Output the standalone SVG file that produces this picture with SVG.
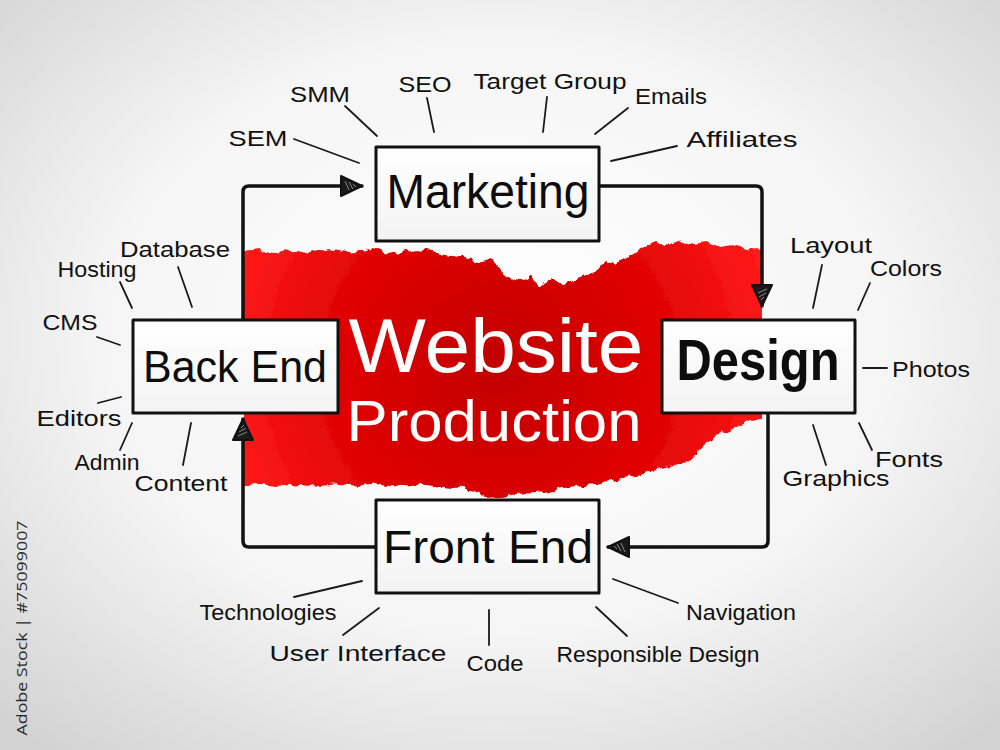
<svg xmlns="http://www.w3.org/2000/svg" width="1000" height="750" viewBox="0 0 1000 750">
<defs>
<radialGradient id="bg" cx="50%" cy="45%" r="72%">
<stop offset="0" stop-color="#ffffff"/>
<stop offset="0.55" stop-color="#f5f5f5"/>
<stop offset="1" stop-color="#d2d2d2"/>
</radialGradient>
<radialGradient id="red" cx="500" cy="370" r="280" gradientUnits="userSpaceOnUse">
<stop offset="0" stop-color="#c20000"/>
<stop offset="0.6" stop-color="#e00404"/>
<stop offset="1" stop-color="#ff1a1a"/>
</radialGradient>
<linearGradient id="boxfill" x1="0" y1="0" x2="0" y2="1">
<stop offset="0" stop-color="#ffffff"/>
<stop offset="1" stop-color="#f3f3f3"/>
</linearGradient>
<clipPath id="redclip">
<rect x="244" y="200" width="518" height="320"/>
</clipPath>
<filter id="rough" x="-5%" y="-10%" width="110%" height="120%">
<feTurbulence type="fractalNoise" baseFrequency="0.09" numOctaves="3" seed="4"/>
<feDisplacementMap in="SourceGraphic" scale="9" xChannelSelector="R" yChannelSelector="G"/>
</filter>
<marker id="arr" markerUnits="userSpaceOnUse" viewBox="0 0 24 22" refX="22" refY="11" markerWidth="24" markerHeight="22" orient="auto">
<path d="M1,1 L22,11 L1,21 Z" fill="#1a1a1a" stroke="#111" stroke-width="2" stroke-linejoin="round"/>
<path d="M5,6 L9,15 M9,7 L13,14 M13,9 L16,12" stroke="#888" stroke-width="1"/>
</marker>
<style>
.lbl{font-family:"Liberation Sans",Arial,sans-serif;font-size:22px;fill:#111;text-anchor:middle}
.box{fill:url(#boxfill);stroke:#111;stroke-width:3;stroke-linejoin:round}
.bt{font-family:"Liberation Sans",Arial,sans-serif;fill:#0d0d0d;text-anchor:middle}
.spoke{stroke:#1a1a1a;stroke-width:1.8;stroke-linecap:round;fill:none}
.cyc{stroke:#111;stroke-width:3.5;fill:none;stroke-linejoin:round;stroke-linecap:round}
.title{font-family:"Liberation Sans",Arial,sans-serif;fill:#ffffff;text-anchor:middle}
</style>
</defs>
<rect x="0" y="0" width="1000" height="750" fill="url(#bg)"/>

<g id="red-brush" clip-path="url(#redclip)">
<path filter="url(#rough)" fill="url(#red)" d="M230,486 L230,253 L260,250 L275,254 L290,249 L310,252 L330,248 L350,253 L370,249 L395,254 L420,250 L445,255 L465,258 L480,262 L492,258 L500,270 L510,278 L520,282 L530,276 L540,285 L550,280 L565,283 L580,278 L595,272 L605,262 L615,266 L625,258 L635,252 L645,246 L655,242 L665,246 L678,240 L690,245 L705,242 L720,248 L735,246 L750,250 L775,252 L775,418 L750,420 L735,428 L722,432 L712,440 L703,447 L695,455 L688,462 L670,466 L650,470 L635,476 L615,479 L597,484 L575,486 L555,490 L535,493 L515,494 L500,497 L485,498 L475,492 L463,488 L440,487 L420,484 L400,486 L380,484 L360,486 L340,484 L320,486 L300,484 L280,486 L260,484 Z"/>
</g>

<g id="connectors">
<path class="cyc" d="M243,319 L243,192 Q243,186 249,186 L362,186" marker-end="url(#arr)"/>
<path class="cyc" d="M600,186 L756,186 Q762,186 762,192 L762,306" marker-end="url(#arr)"/>
<path class="cyc" d="M768,413 L768,541 Q768,547 762,547 L608,547" marker-end="url(#arr)"/>
<path class="cyc" d="M376,547 L249,547 Q243,547 243,541 L243,419" marker-end="url(#arr)"/>
</g>

<g id="title">
<text class="title" x="496" y="372" font-size="76" textLength="295" lengthAdjust="spacingAndGlyphs">Website</text>
<text class="title" x="494" y="441" font-size="58" textLength="295" lengthAdjust="spacingAndGlyphs">Production</text>
</g>

<g id="marketing">
<rect class="box" x="376" y="147" width="223" height="94"/>
<text class="bt" x="488" y="208" font-size="48" textLength="203" lengthAdjust="spacingAndGlyphs">Marketing</text>
<g class="spokes">
<line class="spoke" x1="294" y1="139" x2="359" y2="163"/>
<line class="spoke" x1="345" y1="106" x2="377" y2="136"/>
<line class="spoke" x1="427" y1="98" x2="434" y2="132"/>
<line class="spoke" x1="547" y1="97" x2="543" y2="132"/>
<line class="spoke" x1="628" y1="108" x2="595" y2="134"/>
<line class="spoke" x1="677" y1="146" x2="611" y2="161"/>
</g>
<text class="lbl" x="258" y="146" textLength="59" lengthAdjust="spacingAndGlyphs">SEM</text>
<text class="lbl" x="320" y="102" textLength="60" lengthAdjust="spacingAndGlyphs">SMM</text>
<text class="lbl" x="425" y="92" textLength="53" lengthAdjust="spacingAndGlyphs">SEO</text>
<text class="lbl" x="550" y="89" textLength="153" lengthAdjust="spacingAndGlyphs">Target Group</text>
<text class="lbl" x="671" y="104" textLength="72" lengthAdjust="spacingAndGlyphs">Emails</text>
<text class="lbl" x="742" y="147" textLength="111" lengthAdjust="spacingAndGlyphs">Affiliates</text>
</g>

<g id="design">
<rect class="box" x="662" y="320" width="193" height="93"/>
<text class="bt" x="758" y="380" font-size="58" font-weight="bold" textLength="163" lengthAdjust="spacingAndGlyphs">Design</text>
<g class="spokes">
<line class="spoke" x1="822" y1="265" x2="813" y2="308"/>
<line class="spoke" x1="870" y1="283" x2="858" y2="310"/>
<line class="spoke" x1="863" y1="368" x2="887" y2="368"/>
<line class="spoke" x1="813" y1="425" x2="826" y2="465"/>
<line class="spoke" x1="859" y1="423" x2="872" y2="450"/>
</g>
<text class="lbl" x="831" y="253" textLength="82" lengthAdjust="spacingAndGlyphs">Layout</text>
<text class="lbl" x="906" y="276" textLength="72" lengthAdjust="spacingAndGlyphs">Colors</text>
<text class="lbl" x="931" y="377" textLength="78" lengthAdjust="spacingAndGlyphs">Photos</text>
<text class="lbl" x="909" y="467" textLength="68" lengthAdjust="spacingAndGlyphs">Fonts</text>
<text class="lbl" x="836" y="486" textLength="107" lengthAdjust="spacingAndGlyphs">Graphics</text>
</g>

<g id="front-end">
<rect class="box" x="376" y="500" width="223" height="93"/>
<text class="bt" x="488" y="563" font-size="46" textLength="210" lengthAdjust="spacingAndGlyphs">Front End</text>
<g class="spokes">
<line class="spoke" x1="294" y1="597" x2="362" y2="581"/>
<line class="spoke" x1="343" y1="635" x2="379" y2="608"/>
<line class="spoke" x1="489" y1="610" x2="489" y2="645"/>
<line class="spoke" x1="596" y1="607" x2="627" y2="636"/>
<line class="spoke" x1="613" y1="579" x2="678" y2="603"/>
</g>
<text class="lbl" x="268" y="620" textLength="137" lengthAdjust="spacingAndGlyphs">Technologies</text>
<text class="lbl" x="358" y="661" textLength="177" lengthAdjust="spacingAndGlyphs">User Interface</text>
<text class="lbl" x="495" y="671" textLength="57" lengthAdjust="spacingAndGlyphs">Code</text>
<text class="lbl" x="658" y="662" textLength="203" lengthAdjust="spacingAndGlyphs">Responsible Design</text>
<text class="lbl" x="741" y="620" textLength="110" lengthAdjust="spacingAndGlyphs">Navigation</text>
</g>

<g id="back-end">
<rect class="box" x="133" y="320" width="205" height="93"/>
<text class="bt" x="235" y="382" font-size="44" textLength="184" lengthAdjust="spacingAndGlyphs">Back End</text>
<g class="spokes">
<line class="spoke" x1="120" y1="282" x2="132" y2="308"/>
<line class="spoke" x1="178" y1="267" x2="192" y2="307"/>
<line class="spoke" x1="97" y1="337" x2="120" y2="345"/>
<line class="spoke" x1="98" y1="403" x2="121" y2="397"/>
<line class="spoke" x1="132" y1="423" x2="120" y2="450"/>
<line class="spoke" x1="191" y1="423" x2="183" y2="465"/>
</g>
<text class="lbl" x="175" y="257" textLength="110" lengthAdjust="spacingAndGlyphs">Database</text>
<text class="lbl" x="97" y="277" textLength="79" lengthAdjust="spacingAndGlyphs">Hosting</text>
<text class="lbl" x="70" y="330" textLength="55" lengthAdjust="spacingAndGlyphs">CMS</text>
<text class="lbl" x="79" y="426" textLength="85" lengthAdjust="spacingAndGlyphs">Editors</text>
<text class="lbl" x="107" y="470" textLength="65" lengthAdjust="spacingAndGlyphs">Admin</text>
<text class="lbl" x="181" y="491" textLength="93" lengthAdjust="spacingAndGlyphs">Content</text>
</g>

<text x="27" y="628" transform="rotate(-90 27 628)" font-family="'Open Sans','Liberation Sans',sans-serif" font-size="15" fill="#2a2a2a" text-anchor="middle" textLength="215" lengthAdjust="spacingAndGlyphs">Adobe Stock | #75099007</text>
</svg>
